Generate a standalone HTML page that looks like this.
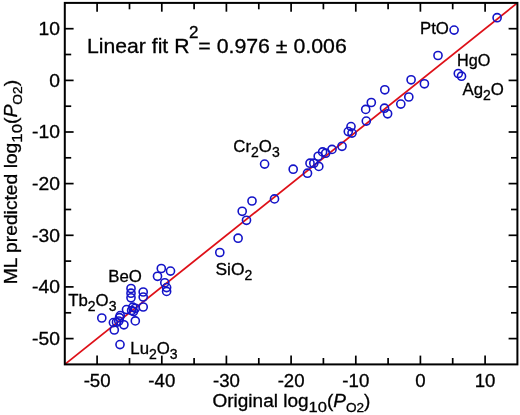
<!DOCTYPE html>
<html lang="en"><head><meta charset="utf-8"><title>ML predicted vs original log10(PO2)</title>
<style>html,body{margin:0;padding:0;background:#fff;}body{width:520px;height:415px;overflow:hidden;}svg{display:block;}text{font-family:"Liberation Sans", Arial, Helvetica, sans-serif;fill:#000;stroke:#000;stroke-width:0.3px;}</style></head><body>
<svg width="520" height="415" viewBox="0 0 520 415">
<rect x="0" y="0" width="520" height="415" fill="#ffffff"/>
<line x1="64.8" y1="364.4" x2="517.4" y2="2.9" stroke="#de1018" stroke-width="1.8"/>
<g fill="none" stroke="#1414c8" stroke-width="1.6">
<circle cx="101.8" cy="318.0" r="4.05"/>
<circle cx="120.0" cy="344.6" r="4.05"/>
<circle cx="114.3" cy="330.0" r="4.05"/>
<circle cx="113.4" cy="322.6" r="4.05"/>
<circle cx="116.5" cy="322.3" r="4.05"/>
<circle cx="118.8" cy="321.0" r="4.05"/>
<circle cx="119.5" cy="317.7" r="4.05"/>
<circle cx="120.2" cy="315.6" r="4.05"/>
<circle cx="123.9" cy="324.8" r="4.05"/>
<circle cx="126.5" cy="309.6" r="4.05"/>
<circle cx="131.0" cy="288.5" r="4.05"/>
<circle cx="131.0" cy="293.2" r="4.05"/>
<circle cx="131.0" cy="297.8" r="4.05"/>
<circle cx="131.6" cy="310.5" r="4.05"/>
<circle cx="132.8" cy="307.2" r="4.05"/>
<circle cx="135.3" cy="308.3" r="4.05"/>
<circle cx="133.5" cy="311.5" r="4.05"/>
<circle cx="135.3" cy="320.9" r="4.05"/>
<circle cx="143.2" cy="292.0" r="4.05"/>
<circle cx="143.2" cy="297.0" r="4.05"/>
<circle cx="143.2" cy="307.0" r="4.05"/>
<circle cx="161.3" cy="268.5" r="4.05"/>
<circle cx="170.5" cy="271.1" r="4.05"/>
<circle cx="157.5" cy="276.3" r="4.05"/>
<circle cx="164.8" cy="282.8" r="4.05"/>
<circle cx="166.6" cy="287.6" r="4.05"/>
<circle cx="166.6" cy="291.4" r="4.05"/>
<circle cx="219.8" cy="252.5" r="4.05"/>
<circle cx="238.1" cy="238.2" r="4.05"/>
<circle cx="246.5" cy="220.3" r="4.05"/>
<circle cx="242.2" cy="211.3" r="4.05"/>
<circle cx="252.0" cy="201.0" r="4.05"/>
<circle cx="264.6" cy="164.1" r="4.05"/>
<circle cx="274.5" cy="198.9" r="4.05"/>
<circle cx="293.2" cy="169.2" r="4.05"/>
<circle cx="307.5" cy="173.2" r="4.05"/>
<circle cx="310.0" cy="163.2" r="4.05"/>
<circle cx="313.8" cy="163.2" r="4.05"/>
<circle cx="318.8" cy="166.4" r="4.05"/>
<circle cx="318.2" cy="156.3" r="4.05"/>
<circle cx="322.6" cy="151.9" r="4.05"/>
<circle cx="325.7" cy="153.2" r="4.05"/>
<circle cx="332.0" cy="149.4" r="4.05"/>
<circle cx="342.0" cy="146.3" r="4.05"/>
<circle cx="348.3" cy="131.6" r="4.05"/>
<circle cx="352.0" cy="133.1" r="4.05"/>
<circle cx="351.0" cy="126.6" r="4.05"/>
<circle cx="366.3" cy="121.1" r="4.05"/>
<circle cx="365.7" cy="109.4" r="4.05"/>
<circle cx="371.3" cy="102.5" r="4.05"/>
<circle cx="384.8" cy="89.8" r="4.05"/>
<circle cx="384.5" cy="108.2" r="4.05"/>
<circle cx="387.6" cy="113.8" r="4.05"/>
<circle cx="400.8" cy="104.1" r="4.05"/>
<circle cx="408.8" cy="97.0" r="4.05"/>
<circle cx="411.1" cy="79.8" r="4.05"/>
<circle cx="424.4" cy="83.8" r="4.05"/>
<circle cx="438.0" cy="55.5" r="4.05"/>
<circle cx="454.1" cy="30.1" r="4.05"/>
<circle cx="458.3" cy="73.5" r="4.05"/>
<circle cx="461.5" cy="76.2" r="4.05"/>
<circle cx="497.1" cy="17.7" r="4.05"/>
</g>
<g stroke="#000" stroke-width="1.7">
<line x1="97.1" y1="364.4" x2="97.1" y2="355.6"/>
<line x1="97.1" y1="2.9" x2="97.1" y2="11.7"/>
<line x1="64.8" y1="338.6" x2="73.6" y2="338.6"/>
<line x1="517.4" y1="338.6" x2="508.6" y2="338.6"/>
<line x1="129.5" y1="364.4" x2="129.5" y2="358.0"/>
<line x1="129.5" y1="2.9" x2="129.5" y2="9.3"/>
<line x1="64.8" y1="312.8" x2="71.2" y2="312.8"/>
<line x1="517.4" y1="312.8" x2="511.0" y2="312.8"/>
<line x1="161.8" y1="364.4" x2="161.8" y2="355.6"/>
<line x1="161.8" y1="2.9" x2="161.8" y2="11.7"/>
<line x1="64.8" y1="286.9" x2="73.6" y2="286.9"/>
<line x1="517.4" y1="286.9" x2="508.6" y2="286.9"/>
<line x1="194.1" y1="364.4" x2="194.1" y2="358.0"/>
<line x1="194.1" y1="2.9" x2="194.1" y2="9.3"/>
<line x1="64.8" y1="261.1" x2="71.2" y2="261.1"/>
<line x1="517.4" y1="261.1" x2="511.0" y2="261.1"/>
<line x1="226.4" y1="364.4" x2="226.4" y2="355.6"/>
<line x1="226.4" y1="2.9" x2="226.4" y2="11.7"/>
<line x1="64.8" y1="235.3" x2="73.6" y2="235.3"/>
<line x1="517.4" y1="235.3" x2="508.6" y2="235.3"/>
<line x1="258.8" y1="364.4" x2="258.8" y2="358.0"/>
<line x1="258.8" y1="2.9" x2="258.8" y2="9.3"/>
<line x1="64.8" y1="209.5" x2="71.2" y2="209.5"/>
<line x1="517.4" y1="209.5" x2="511.0" y2="209.5"/>
<line x1="291.1" y1="364.4" x2="291.1" y2="355.6"/>
<line x1="291.1" y1="2.9" x2="291.1" y2="11.7"/>
<line x1="64.8" y1="183.6" x2="73.6" y2="183.6"/>
<line x1="517.4" y1="183.6" x2="508.6" y2="183.6"/>
<line x1="323.4" y1="364.4" x2="323.4" y2="358.0"/>
<line x1="323.4" y1="2.9" x2="323.4" y2="9.3"/>
<line x1="64.8" y1="157.8" x2="71.2" y2="157.8"/>
<line x1="517.4" y1="157.8" x2="511.0" y2="157.8"/>
<line x1="355.8" y1="364.4" x2="355.8" y2="355.6"/>
<line x1="355.8" y1="2.9" x2="355.8" y2="11.7"/>
<line x1="64.8" y1="132.0" x2="73.6" y2="132.0"/>
<line x1="517.4" y1="132.0" x2="508.6" y2="132.0"/>
<line x1="388.1" y1="364.4" x2="388.1" y2="358.0"/>
<line x1="388.1" y1="2.9" x2="388.1" y2="9.3"/>
<line x1="64.8" y1="106.2" x2="71.2" y2="106.2"/>
<line x1="517.4" y1="106.2" x2="511.0" y2="106.2"/>
<line x1="420.4" y1="364.4" x2="420.4" y2="355.6"/>
<line x1="420.4" y1="2.9" x2="420.4" y2="11.7"/>
<line x1="64.8" y1="80.4" x2="73.6" y2="80.4"/>
<line x1="517.4" y1="80.4" x2="508.6" y2="80.4"/>
<line x1="452.7" y1="364.4" x2="452.7" y2="358.0"/>
<line x1="452.7" y1="2.9" x2="452.7" y2="9.3"/>
<line x1="64.8" y1="54.5" x2="71.2" y2="54.5"/>
<line x1="517.4" y1="54.5" x2="511.0" y2="54.5"/>
<line x1="485.1" y1="364.4" x2="485.1" y2="355.6"/>
<line x1="485.1" y1="2.9" x2="485.1" y2="11.7"/>
<line x1="64.8" y1="28.7" x2="73.6" y2="28.7"/>
<line x1="517.4" y1="28.7" x2="508.6" y2="28.7"/>
</g>
<rect x="64.8" y="2.9" width="452.6" height="361.5" fill="none" stroke="#000" stroke-width="2"/>
<g font-size="17.5">
<text transform="translate(97.1,386.5) scale(1.065,1)" text-anchor="middle">-50</text>
<text transform="translate(59.9,344.8) scale(1.1,1)" text-anchor="end">-50</text>
<text transform="translate(161.8,386.5) scale(1.065,1)" text-anchor="middle">-40</text>
<text transform="translate(59.9,293.1) scale(1.1,1)" text-anchor="end">-40</text>
<text transform="translate(226.4,386.5) scale(1.065,1)" text-anchor="middle">-30</text>
<text transform="translate(59.9,241.5) scale(1.1,1)" text-anchor="end">-30</text>
<text transform="translate(291.1,386.5) scale(1.065,1)" text-anchor="middle">-20</text>
<text transform="translate(59.9,189.8) scale(1.1,1)" text-anchor="end">-20</text>
<text transform="translate(355.8,386.5) scale(1.065,1)" text-anchor="middle">-10</text>
<text transform="translate(59.9,138.2) scale(1.1,1)" text-anchor="end">-10</text>
<text transform="translate(420.4,386.5) scale(1.065,1)" text-anchor="middle">0</text>
<text transform="translate(59.9,86.6) scale(1.1,1)" text-anchor="end">0</text>
<text transform="translate(485.1,386.5) scale(1.065,1)" text-anchor="middle">10</text>
<text transform="translate(59.9,34.9) scale(1.1,1)" text-anchor="end">10</text>
</g>
<text transform="translate(212.5,406.5) scale(1.08,1)" font-size="17.6">Original log<tspan font-size="15.3" dy="5.1">10</tspan><tspan dy="-5.1">(</tspan><tspan font-style="italic">P</tspan><tspan font-size="12.6" dy="5.1">O2</tspan><tspan dy="-5.1">)</tspan></text>
<text transform="translate(17,284.3) rotate(-90) scale(1.095,1)" font-size="17.6">ML predicted log<tspan font-size="15.3" dy="5.1">10</tspan><tspan dy="-5.1">(</tspan><tspan font-style="italic">P</tspan><tspan font-size="12.6" dy="5.1">O2</tspan><tspan dy="-5.1">)</tspan></text>
<text transform="translate(87.0,52.5) scale(1.06,1)" font-size="20">Linear fit R</text>
<text x="189.1" y="38.2" font-size="17">2</text>
<text transform="translate(198.3,52.5) scale(1.065,1)" font-size="20">= 0.976 ± 0.006</text>
<text x="420.0" y="33.5" font-size="16.8">PtO</text>
<text x="457.0" y="66.3" font-size="16.2">HgO</text>
<text x="462.5" y="94.7" font-size="16.8">Ag<tspan font-size="14" dy="4.8">2</tspan><tspan dy="-4.8">O</tspan></text>
<text x="233.3" y="152.3" font-size="16.8">Cr<tspan font-size="14" dy="4.8">2</tspan><tspan dy="-4.8">O</tspan><tspan font-size="14" dy="4.8">3</tspan></text>
<text x="215.5" y="274.7" font-size="17.4">SiO<tspan font-size="14" dy="4.8">2</tspan></text>
<text x="108.3" y="281.6" font-size="16.8">BeO</text>
<text x="68.2" y="306.2" font-size="16.8">Tb<tspan font-size="14" dy="4.8">2</tspan><tspan dy="-4.8">O</tspan><tspan font-size="14" dy="4.8">3</tspan></text>
<text x="130.3" y="353.9" font-size="16.8">Lu<tspan font-size="14" dy="4.8">2</tspan><tspan dy="-4.8">O</tspan><tspan font-size="14" dy="4.8">3</tspan></text>
</svg></body></html>
